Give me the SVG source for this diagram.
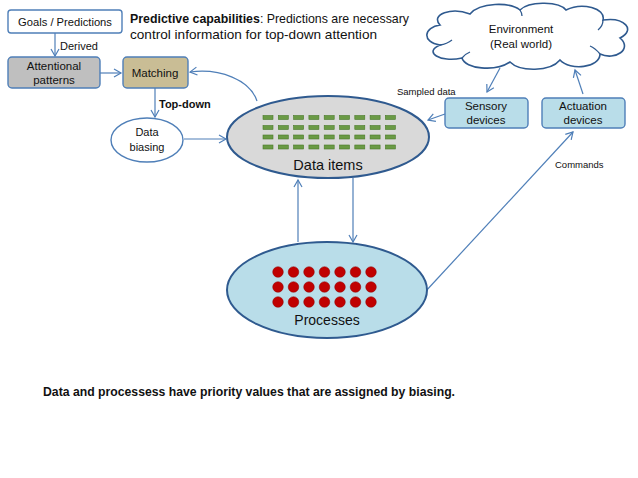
<svg xmlns="http://www.w3.org/2000/svg" width="638" height="478" viewBox="0 0 638 478">
<defs>
<style>
text{font-family:"Liberation Sans",Arial,sans-serif;fill:#111}
.c{stroke:#4f7fb8;stroke-width:1.2;fill:none}
.box{stroke:#4f7fb8;stroke-width:1.4}
.lbl{font-size:11.5px;text-anchor:middle}
.g{fill:#6a9a45;stroke:#4a7a2a;stroke-width:0.6}
.r{fill:#c00000;stroke:#900000;stroke-width:0.5}
</style>
<marker id="ah" markerWidth="10" markerHeight="10" refX="8" refY="5" orient="auto" markerUnits="userSpaceOnUse">
<path d="M1,1 L8,5 L1,9" fill="none" stroke="#4f7fb8" stroke-width="1.2"/>
</marker>
</defs>
<rect width="638" height="478" fill="#fff"/>

<g id="connectors">
<line class="c" x1="55" y1="33" x2="55" y2="56" marker-end="url(#ah)"/>
<line class="c" x1="100" y1="73" x2="121" y2="73" marker-end="url(#ah)"/>
<line class="c" x1="155" y1="88" x2="155" y2="117" marker-end="url(#ah)"/>
<line class="c" x1="184" y1="139" x2="226" y2="139" marker-end="url(#ah)"/>
<path class="c" d="M257,101 C250,80 220,68 190,72" marker-end="url(#ah)"/>
<line class="c" x1="298" y1="242" x2="298" y2="180" marker-end="url(#ah)"/>
<line class="c" x1="353" y1="178" x2="353" y2="242" marker-end="url(#ah)"/>
<line class="c" x1="500" y1="68" x2="487" y2="92" marker-end="url(#ah)"/>
<line class="c" x1="445" y1="114" x2="428" y2="120" marker-end="url(#ah)"/>
<line class="c" x1="583" y1="94" x2="575" y2="70" marker-end="url(#ah)"/>
<line class="c" x1="425" y1="292" x2="573" y2="132" marker-end="url(#ah)"/>
<text x="60" y="50" style="font-size:11px">Derived</text>
<text x="159" y="108" style="font-size:11px;font-weight:bold">Top-down</text>
<text x="397" y="95" style="font-size:9.5px">Sampled data</text>
<text x="555" y="168" style="font-size:9.5px">Commands</text>
</g>

<g id="goals">
<rect class="box" x="8" y="10" width="114" height="23" rx="3" fill="#fff"/>
<text class="lbl" x="65" y="25.5" style="font-size:11.2px">Goals / Predictions</text>
</g>

<g id="attentional">
<rect class="box" x="8" y="57" width="92" height="31" rx="4" fill="#bfbfbf"/>
<text class="lbl" x="54" y="70">Attentional</text>
<text class="lbl" x="54" y="84">patterns</text>
</g>

<g id="matching">
<rect class="box" x="123" y="57" width="65" height="31" rx="4" fill="#c9bd95"/>
<text class="lbl" x="155" y="77">Matching</text>
</g>

<g id="biasing">
<ellipse class="box" cx="147" cy="140" rx="36" ry="22" fill="#fff"/>
<text class="lbl" x="147" y="136" style="font-size:11px">Data</text>
<text class="lbl" x="147" y="151" style="font-size:11px">biasing</text>
</g>

<g id="title">
<text x="130" y="23" textLength="279" lengthAdjust="spacingAndGlyphs" style="font-size:13.5px"><tspan font-weight="bold">Predictive capabilities</tspan>: Predictions are necessary</text>
<text x="130" y="39" textLength="247" lengthAdjust="spacingAndGlyphs" style="font-size:13.5px">control information for top-down attention</text>
</g>

<g id="environment">
<path d="M440,25 C430,14 452,7 470,14 C480,2 510,2 520,10 C530,0 560,2 566,10 C582,2 606,8 603,20 C625,17 636,30 620,38 C633,49 615,61 600,54 C600,68 570,71 560,60 C550,72 520,72 510,62 C495,72 465,69 462,58 C440,63 423,52 440,45 C421,42 424,27 440,25 Z" fill="#fff" stroke="#2f5a8f" stroke-width="1.6"/>
<path d="M440,45 Q447,44 452,40 M600,54 Q595,48 590,46 M603,20 Q603,26 598,30 M462,58 Q465,54 470,52 M520,10 Q522,13 522,16" fill="none" stroke="#2f5a8f" stroke-width="1.3"/>
<text class="lbl" x="521" y="33">Environment</text>
<text class="lbl" x="521" y="48">(Real world)</text>
</g>

<g id="sensory">
<rect class="box" x="445" y="98" width="83" height="30" rx="4" fill="#b9dde9"/>
<text class="lbl" x="486" y="110">Sensory</text>
<text class="lbl" x="486" y="124">devices</text>
</g>

<g id="actuation">
<rect class="box" x="542" y="98" width="83" height="30" rx="4" fill="#b9dde9"/>
<text class="lbl" x="583" y="110">Actuation</text>
<text class="lbl" x="583" y="124">devices</text>
</g>

<g id="dataitems">
<ellipse cx="328" cy="137" rx="101" ry="41" fill="#d9d9d9" stroke="#2f5a8f" stroke-width="2"/>
<g id="greens">
<rect class="g" x="263" y="115.5" width="10" height="4"/><rect class="g" x="278.3" y="115.5" width="10" height="4"/><rect class="g" x="293.6" y="115.5" width="10" height="4"/><rect class="g" x="308.9" y="115.5" width="10" height="4"/><rect class="g" x="324.2" y="115.5" width="10" height="4"/><rect class="g" x="339.5" y="115.5" width="10" height="4"/><rect class="g" x="354.8" y="115.5" width="10" height="4"/><rect class="g" x="370.1" y="115.5" width="10" height="4"/><rect class="g" x="385.4" y="115.5" width="10" height="4"/>
<rect class="g" x="263" y="125.5" width="10" height="4"/><rect class="g" x="278.3" y="125.5" width="10" height="4"/><rect class="g" x="293.6" y="125.5" width="10" height="4"/><rect class="g" x="308.9" y="125.5" width="10" height="4"/><rect class="g" x="324.2" y="125.5" width="10" height="4"/><rect class="g" x="339.5" y="125.5" width="10" height="4"/><rect class="g" x="354.8" y="125.5" width="10" height="4"/><rect class="g" x="370.1" y="125.5" width="10" height="4"/><rect class="g" x="385.4" y="125.5" width="10" height="4"/>
<rect class="g" x="263" y="135" width="10" height="4"/><rect class="g" x="278.3" y="135" width="10" height="4"/><rect class="g" x="293.6" y="135" width="10" height="4"/><rect class="g" x="308.9" y="135" width="10" height="4"/><rect class="g" x="324.2" y="135" width="10" height="4"/><rect class="g" x="339.5" y="135" width="10" height="4"/><rect class="g" x="354.8" y="135" width="10" height="4"/><rect class="g" x="370.1" y="135" width="10" height="4"/><rect class="g" x="385.4" y="135" width="10" height="4"/>
<rect class="g" x="263" y="145" width="10" height="4"/><rect class="g" x="278.3" y="145" width="10" height="4"/><rect class="g" x="293.6" y="145" width="10" height="4"/><rect class="g" x="308.9" y="145" width="10" height="4"/><rect class="g" x="324.2" y="145" width="10" height="4"/><rect class="g" x="339.5" y="145" width="10" height="4"/><rect class="g" x="354.8" y="145" width="10" height="4"/><rect class="g" x="370.1" y="145" width="10" height="4"/><rect class="g" x="385.4" y="145" width="10" height="4"/>
</g>
<text x="328" y="170" style="font-size:14.5px;text-anchor:middle">Data items</text>
</g>

<g id="processes">
<ellipse cx="327" cy="290" rx="100" ry="48" fill="#b9dde9" stroke="#2f5a8f" stroke-width="2"/>
<g id="reds">
<circle class="r" cx="278" cy="272" r="5.3"/><circle class="r" cx="293.5" cy="272" r="5.3"/><circle class="r" cx="309" cy="272" r="5.3"/><circle class="r" cx="324.5" cy="272" r="5.3"/><circle class="r" cx="340" cy="272" r="5.3"/><circle class="r" cx="355.5" cy="272" r="5.3"/><circle class="r" cx="371" cy="272" r="5.3"/>
<circle class="r" cx="278" cy="287" r="5.3"/><circle class="r" cx="293.5" cy="287" r="5.3"/><circle class="r" cx="309" cy="287" r="5.3"/><circle class="r" cx="324.5" cy="287" r="5.3"/><circle class="r" cx="340" cy="287" r="5.3"/><circle class="r" cx="355.5" cy="287" r="5.3"/><circle class="r" cx="371" cy="287" r="5.3"/>
<circle class="r" cx="278" cy="302" r="5.3"/><circle class="r" cx="293.5" cy="302" r="5.3"/><circle class="r" cx="309" cy="302" r="5.3"/><circle class="r" cx="324.5" cy="302" r="5.3"/><circle class="r" cx="340" cy="302" r="5.3"/><circle class="r" cx="355.5" cy="302" r="5.3"/><circle class="r" cx="371" cy="302" r="5.3"/>
</g>
<text x="327" y="325" style="font-size:14px;text-anchor:middle">Processes</text>
</g>

<g id="note">
<text x="43" y="396" textLength="412" lengthAdjust="spacingAndGlyphs" style="font-size:12.5px;font-weight:bold">Data and processess have priority values that are assigned by biasing.</text>
</g>
</svg>
